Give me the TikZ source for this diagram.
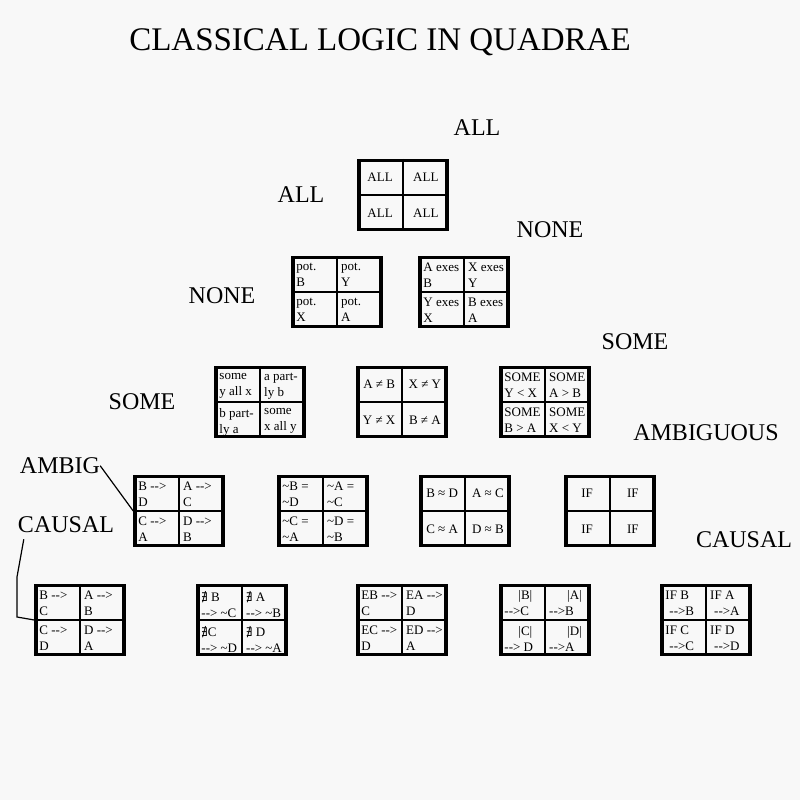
\documentclass[tikz,border=0pt]{standalone}
\usepackage{fontspec}
\setmainfont{Liberation Serif}
\newfontfamily\dvs{DejaVu Serif}
\usetikzlibrary{calc}
\newcommand\ra{-{}->}
\newcommand\ti{\textasciitilde}
\newcommand\nex{{\dvs\fontsize{12}{14}\selectfont ∄}}
\definecolor{bg}{HTML}{F8F8F8}
\tikzset{
 qframe/.style={draw,line width=3.5pt,minimum width=88pt,minimum height=69pt,inner sep=0pt},
 cellL/.style={anchor=north west,inner sep=0pt,align=left,font=\fontsize{13}{16}\selectfont},
 cellC/.style={inner sep=0pt,align=center,font=\fontsize{13}{16}\selectfont},
 lab/.style={font=\fontsize{24}{28}\selectfont,inner sep=0pt},
 conn/.style={line width=1.2pt}
}
\newcommand\qgrid[3]{%
 \node[qframe] (#1) at (#2,#3) {};
 \draw[line width=1.6pt] (#1.north) -- (#1.south);
 \draw[line width=1.6pt] (#1.west) -- (#1.east);
 \node[qframe] at (#2,#3) {};}
\newcommand\qb[7]{\qgrid{#1}{#2}{#3}%
 \node[cellL] (#1a) at ($(#1.north west)+(5,7)$) {#4};
 \node[cellL] (#1b) at ($(#1.north)+(4,7)$) {#5};
 \node[cellL] (#1c) at ($(#1.west)+(5,6)$) {#6};
 \node[cellL] (#1d) at ($(#1.center)+(4,6)$) {#7};}
\newcommand\qc[7]{\qgrid{#1}{#2}{#3}%
 \node[cellC] (#1a) at ($(#1.center)!0.5!(#1.north west)$) {#4};
 \node[cellC] (#1b) at ($(#1.center)!0.5!(#1.north east)$) {#5};
 \node[cellC] (#1c) at ($(#1.center)!0.5!(#1.south west)$) {#6};
 \node[cellC] (#1d) at ($(#1.center)!0.5!(#1.south east)$) {#7};}
\begin{document}
\begin{tikzpicture}[x=1pt,y=-1pt]
\fill[bg] (0,0) rectangle (800,800);
\node[font=\fontsize{33}{38}\selectfont,inner sep=0pt] (title) at (380,42) {CLASSICAL LOGIC IN QUADRAE};
\node[lab] (l1) at (477,128) {ALL};
\node[lab] (l2) at (301,195) {ALL};
\node[lab] (l3) at (550,230) {NONE};
\node[lab] (l4) at (222,296) {NONE};
\node[lab] (l5) at (635,342) {SOME};
\node[lab] (l6) at (142,402) {SOME};
\node[lab] (l7) at (706,433) {AMBIGUOUS};
\node[lab] (l8) at (60,466) {AMBIG};
\node[lab] (l9) at (66,525) {CAUSAL};
\node[lab] (l10) at (744,540) {CAUSAL};
% row 1
\qc{b1}{403}{195}{ALL}{ALL}{ALL}{ALL}
% row 2
\qb{b2}{337}{292}{pot.\\B}{pot.\\Y}{pot.\\X}{pot.\\A}
\qb{b3}{464}{292}{A exes\\B}{X exes\\Y}{Y exes\\X}{B exes\\A}
% row 3
\qb{b4}{260}{402}{some\\y all x}{a part-\\ly b}{b part-\\ly a}{some\\x all y}
\qc{b5}{402}{402}{A ≠ B}{X ≠ Y}{Y ≠ X}{B ≠ A}
\qb{b6}{545}{402}{SOME\\Y < X}{SOME\\A > B}{SOME\\B > A}{SOME\\X < Y}
% row 4
\qb{b7}{179}{511}{B \ra\\D}{A \ra\\C}{C \ra\\A}{D \ra\\B}
\qb{b8}{323}{511}{\ti B =\\\ti D}{\ti A =\\\ti C}{\ti C =\\\ti A}{\ti D =\\\ti B}
\qc{b9}{465}{511}{B ≈ D}{A ≈ C}{C ≈ A}{D ≈ B}
\qc{b10}{610}{511}{IF}{IF}{IF}{IF}
% row 5
\qb{b11}{80}{620}{B \ra\\C}{A \ra\\B}{C \ra\\D}{D \ra\\A}
\qb{b12}{242}{620}{\nex\ B\\\ra\ \ti C}{\nex\ A\\\ra\ \ti B}{\nex C\\\ra\ \ti D}{\nex\ D\\\ra\ \ti A}
\qb{b13}{402}{620}{EB \ra\\C}{EA \ra\\D}{EC \ra\\D}{ED \ra\\A}
\qb{b14}{545}{620}{\hspace*{14pt}|B|\\\ra C}{\hspace*{18pt}|A|\\\ra B}{\hspace*{14pt}|C|\\\ra\ D}{\hspace*{18pt}|D|\\\ra A}
\qb{b15}{706}{620}{IF B\\\hspace*{4pt}\ra B}{IF A\\\hspace*{4pt}\ra A}{IF C\\\hspace*{4pt}\ra C}{IF D\\\hspace*{4pt}\ra D}
% connectors
\coordinate (c1) at (17,577);
\coordinate (c2) at (17,617);
\draw[conn] (l8.north east) ++(0,8) -- (b7.west);
\draw[conn] ($(l9.south west)+(6,6)$) -- (c1) -- (c2) -- (b11.west);
\end{tikzpicture}
\end{document}
